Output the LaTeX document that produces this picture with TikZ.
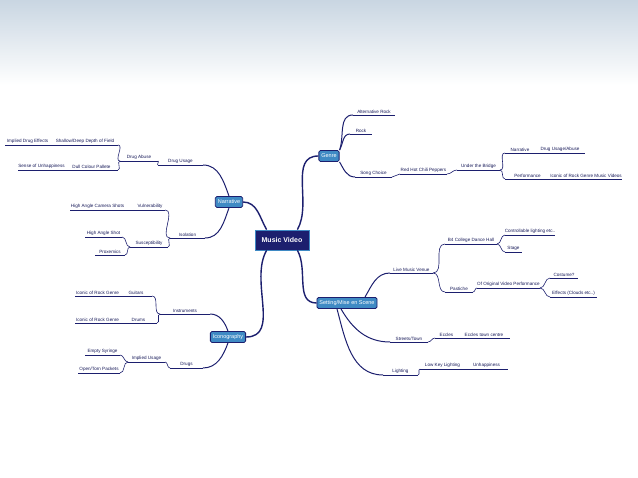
\documentclass[tikz,border=0pt]{standalone}
\usepackage{fontspec}
\setmainfont{Liberation Sans}
\definecolor{navy}{HTML}{1C1F6E}
\definecolor{boxblue}{HTML}{3F8AC4}
\definecolor{topband}{HTML}{C9D6E2}
\tikzset{
  conn/.style={draw=navy,line width=0.6pt},
  mainconn/.style={draw=navy,line width=1.4pt},
  lbl/.style={font=\fontsize{4.6}{5}\selectfont,text=navy!80!black,inner sep=0pt,anchor=south},
  topic/.style={draw=navy,line width=0.8pt,fill=boxblue,rounded corners=1.5pt,text=white,font=\fontsize{5.5}{6}\selectfont,inner sep=2.5pt,minimum height=11pt},
  central/.style={draw=boxblue,line width=0.8pt,fill=navy,text=white,font=\fontsize{7}{8}\bfseries\selectfont,minimum width=54pt,minimum height=20pt}
}
\newcommand\mleaf[5]{%
  \coordinate (#1-l) at (#2,#4);
  \coordinate (#1-r) at (#3,#4);
  \draw[conn] (#1-l) -- (#1-r);
  \node[lbl] (#1) at ({(#2+#3)/2},{#4-1.5}) {#5};
}
\begin{document}
\begin{tikzpicture}[x=1pt,y=-1pt]
\useasboundingbox (0,0) rectangle (638,478);
\shade[top color=topband,bottom color=white] (0,0) rectangle (638,85);
% central and topics
\node[central] (mv) at (282,240) {Music Video};
\node[topic] (narr) at (229,202) {Narrative};
\node[topic] (genre) at (329,156) {Genre};
\node[topic] (set) at (347,303) {Setting/Mise en Scene};
\node[topic] (icon) at (228,337) {Iconography};
\draw[mainconn] (mv.north west) ++(12,0) coordinate (a1) to[out=120,in=0] (narr.east);
\draw[mainconn] (mv.north east) ++(-12,0) coordinate (a2) to[out=60,in=180] (genre.west);
\draw[mainconn] (mv.south east) ++(-12,0) coordinate (a3) to[out=-60,in=180] (set.west);
\draw[mainconn] (mv.south west) ++(12,0) coordinate (a4) to[out=-120,in=0] (icon.east);
% Narrative
\mleaf{du}{158}{203}{165}{Drug Usage}
\mleaf{da}{120}{158}{161}{Drug Abuse}
\mleaf{sd}{52}{118}{145}{Shallow/Deep Depth of Field}
\mleaf{ide}{5}{50}{145}{Implied Drug Effects}
\mleaf{dc}{65}{118}{170}{Dull Colour Pallete}
\mleaf{su}{18}{65}{170}{Sense of Unhappiness}
\mleaf{iso}{170}{205}{238}{Isolation}
\mleaf{vul}{135}{165}{210}{Vulnerability}
\mleaf{hac}{70}{125}{210}{High Angle Camera Shots}
\mleaf{sus}{130}{168}{247}{Susceptibility}
\mleaf{has}{85}{122}{237}{High Angle Shot}
\mleaf{pro}{95}{125}{255}{Proxemics}
\draw[conn,line width=1pt] (narr.north) to[out=110,in=0] (du-r);
\draw[conn,line width=1pt] (narr.south) to[out=-110,in=0] (iso-r);
\draw[conn] (du-l) to[out=180,in=0] (da-r);
\draw[conn] (da-l) to[out=180,in=0] (sd-r);
\draw[conn] (da-l) to[out=180,in=0] (dc-r);
\draw[conn] (sd-l) -- (ide-r);
\draw[conn] (dc-l) -- (su-r);
\draw[conn] (iso-l) to[out=180,in=0] (vul-r);
\draw[conn] (iso-l) to[out=180,in=0] (sus-r);
\draw[conn] (vul-l) -- (hac-r);
\draw[conn] (sus-l) to[out=180,in=0] (has-r);
\draw[conn] (sus-l) to[out=180,in=0] (pro-r);
% Iconography
\mleaf{ins}{160}{210}{314}{Instruments}
\mleaf{gui}{120}{152}{296}{Guitars}
\mleaf{irg}{75}{120}{296}{Iconic of Rock Genre}
\mleaf{dru}{120}{157}{323}{Drums}
\mleaf{irg2}{75}{120}{323}{Iconic of Rock Genre}
\mleaf{drg}{170}{203}{368}{Drugs}
\mleaf{imu}{128}{165}{362}{Implied Usage}
\mleaf{es}{85}{120}{355}{Empty Syringe}
\mleaf{otp}{78}{120}{373}{Open/Torn Packets}
\draw[conn,line width=1pt] (icon.north) to[out=110,in=0] (ins-r);
\draw[conn,line width=1pt] (icon.south) to[out=-110,in=0] (drg-r);
\draw[conn] (ins-l) to[out=180,in=0] (gui-r);
\draw[conn] (ins-l) to[out=180,in=0] (dru-r);
\draw[conn] (gui-l) -- (irg-r);
\draw[conn] (dru-l) -- (irg2-r);
\draw[conn] (drg-l) to[out=180,in=0] (imu-r);
\draw[conn] (imu-l) to[out=180,in=0] (es-r);
\draw[conn] (imu-l) to[out=180,in=0] (otp-r);
% Genre
\mleaf{alt}{353}{395}{115}{Alternative Rock}
\mleaf{rock}{350}{372}{134}{Rock}
\mleaf{sc}{355}{392}{177}{Song Choice}
\mleaf{rhcp}{400}{447}{174}{Red Hot Chili Peppers}
\mleaf{utb}{457}{500}{170}{Under the Bridge}
\mleaf{nar2}{505}{535}{153}{Narrative}
\mleaf{dua}{535}{585}{153}{Drug Usage/Abuse}
\mleaf{perf}{505}{550}{179}{Performance}
\mleaf{irgv}{550}{622}{179}{Iconic of Rock Genre Music Videos}
\draw[conn,line width=1pt] (genre.north east) to[out=70,in=180] (alt-l);
\draw[conn,line width=1pt] (genre.north east) to[out=60,in=180] (rock-l);
\draw[conn,line width=1pt] (genre.south east) to[out=-60,in=180] (sc-l);
\draw[conn] (sc-r) to[out=0,in=180] (rhcp-l);
\draw[conn] (rhcp-r) to[out=0,in=180] (utb-l);
\draw[conn] (utb-r) to[out=0,in=180] (nar2-l);
\draw[conn] (utb-r) to[out=0,in=180] (perf-l);
\draw[conn] (nar2-r) -- (dua-l);
\draw[conn] (perf-r) -- (irgv-l);
% Setting
\mleaf{lmv}{390}{433}{273}{Live Music Venue}
\mleaf{b4}{445}{497}{244}{B4 College Dance Hall}
\mleaf{cl}{505}{555}{235}{Controllable lighting etc..}
\mleaf{stg}{505}{522}{252}{Stage}
\mleaf{pas}{445}{473}{292}{Pastiche}
\mleaf{oov}{477}{540}{288}{Of Original Video Performance}
\mleaf{cos}{550}{578}{278}{Costume?}
\mleaf{eff}{550}{597}{297}{Effects (Clouds etc..)}
\mleaf{st}{390}{428}{342}{Streets/Town}
\mleaf{ecc}{435}{458}{338}{Eccles}
\mleaf{etc}{458}{510}{338}{Eccles town centre}
\mleaf{lig}{383}{418}{375}{Lighting}
\mleaf{lkl}{420}{465}{369}{Low Key Lighting}
\mleaf{unh}{465}{508}{369}{Unhappiness}
\draw[conn,line width=1pt] ([xshift=18pt]set.north) to[out=60,in=180] (lmv-l);
\draw[conn,line width=1pt] ([xshift=-6pt]set.south) to[out=-60,in=180] (st-l);
\draw[conn,line width=1pt] ([xshift=-10pt]set.south) to[out=-75,in=180] (lig-l);
\draw[conn] (lmv-r) to[out=0,in=180] (b4-l);
\draw[conn] (lmv-r) to[out=0,in=180] (pas-l);
\draw[conn] (b4-r) to[out=0,in=180] (cl-l);
\draw[conn] (b4-r) to[out=0,in=180] (stg-l);
\draw[conn] (pas-r) to[out=0,in=180] (oov-l);
\draw[conn] (oov-r) to[out=0,in=180] (cos-l);
\draw[conn] (oov-r) to[out=0,in=180] (eff-l);
\draw[conn] (st-r) to[out=0,in=180] (ecc-l);
\draw[conn] (ecc-r) -- (etc-l);
\draw[conn] (lig-r) to[out=0,in=180] (lkl-l);
\draw[conn] (lkl-r) -- (unh-l);
\end{tikzpicture}
\end{document}
